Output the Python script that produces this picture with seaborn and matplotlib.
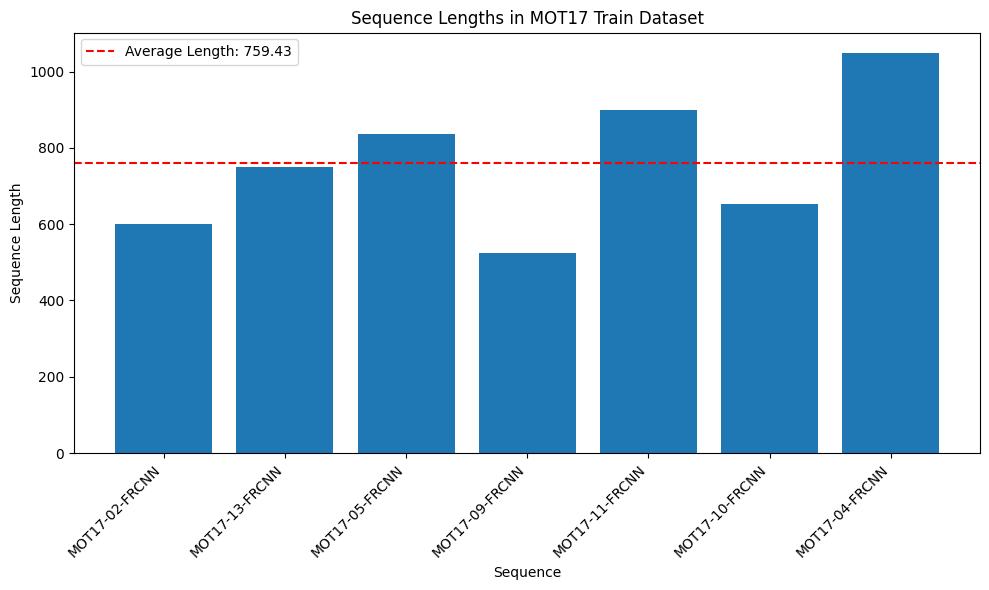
import numpy as np
import pandas as pd
import seaborn as sns
import matplotlib
matplotlib.use('Agg')
import matplotlib.pyplot as plt

sequences = ['MOT17-02-FRCNN', 'MOT17-13-FRCNN', 'MOT17-05-FRCNN', 'MOT17-09-FRCNN',
             'MOT17-11-FRCNN', 'MOT17-10-FRCNN', 'MOT17-04-FRCNN']
lengths = [600, 750, 837, 525, 900, 654, 1050]

df = pd.DataFrame({'Sequence': sequences, 'Length': lengths})
avg = np.mean(lengths)

fig, ax = plt.subplots(figsize=(9.89, 5.9), dpi=100)
sns.barplot(data=df, x='Sequence', y='Length', color='#1f77b4', saturation=1,
            width=0.8, ax=ax)
ax.axhline(avg, color='red', linestyle='--', label='Average Length: %.2f' % avg)
# matplotlib-style x margins instead of seaborn's tight categorical limits
n = len(sequences)
pad = 0.05 * (n - 1 + 0.8)
ax.set_xlim(-0.4 - pad, n - 1 + 0.4 + pad)
ax.set_title('Sequence Lengths in MOT17 Train Dataset')
ax.set_xlabel('Sequence')
ax.set_ylabel('Sequence Length')
plt.setp(ax.get_xticklabels(), rotation=45, ha='right')
ax.legend(loc='upper left')
fig.subplots_adjust(left=0.0748, right=0.9914, top=0.9449, bottom=0.2322)
fig.savefig('out.png', dpi=100)
